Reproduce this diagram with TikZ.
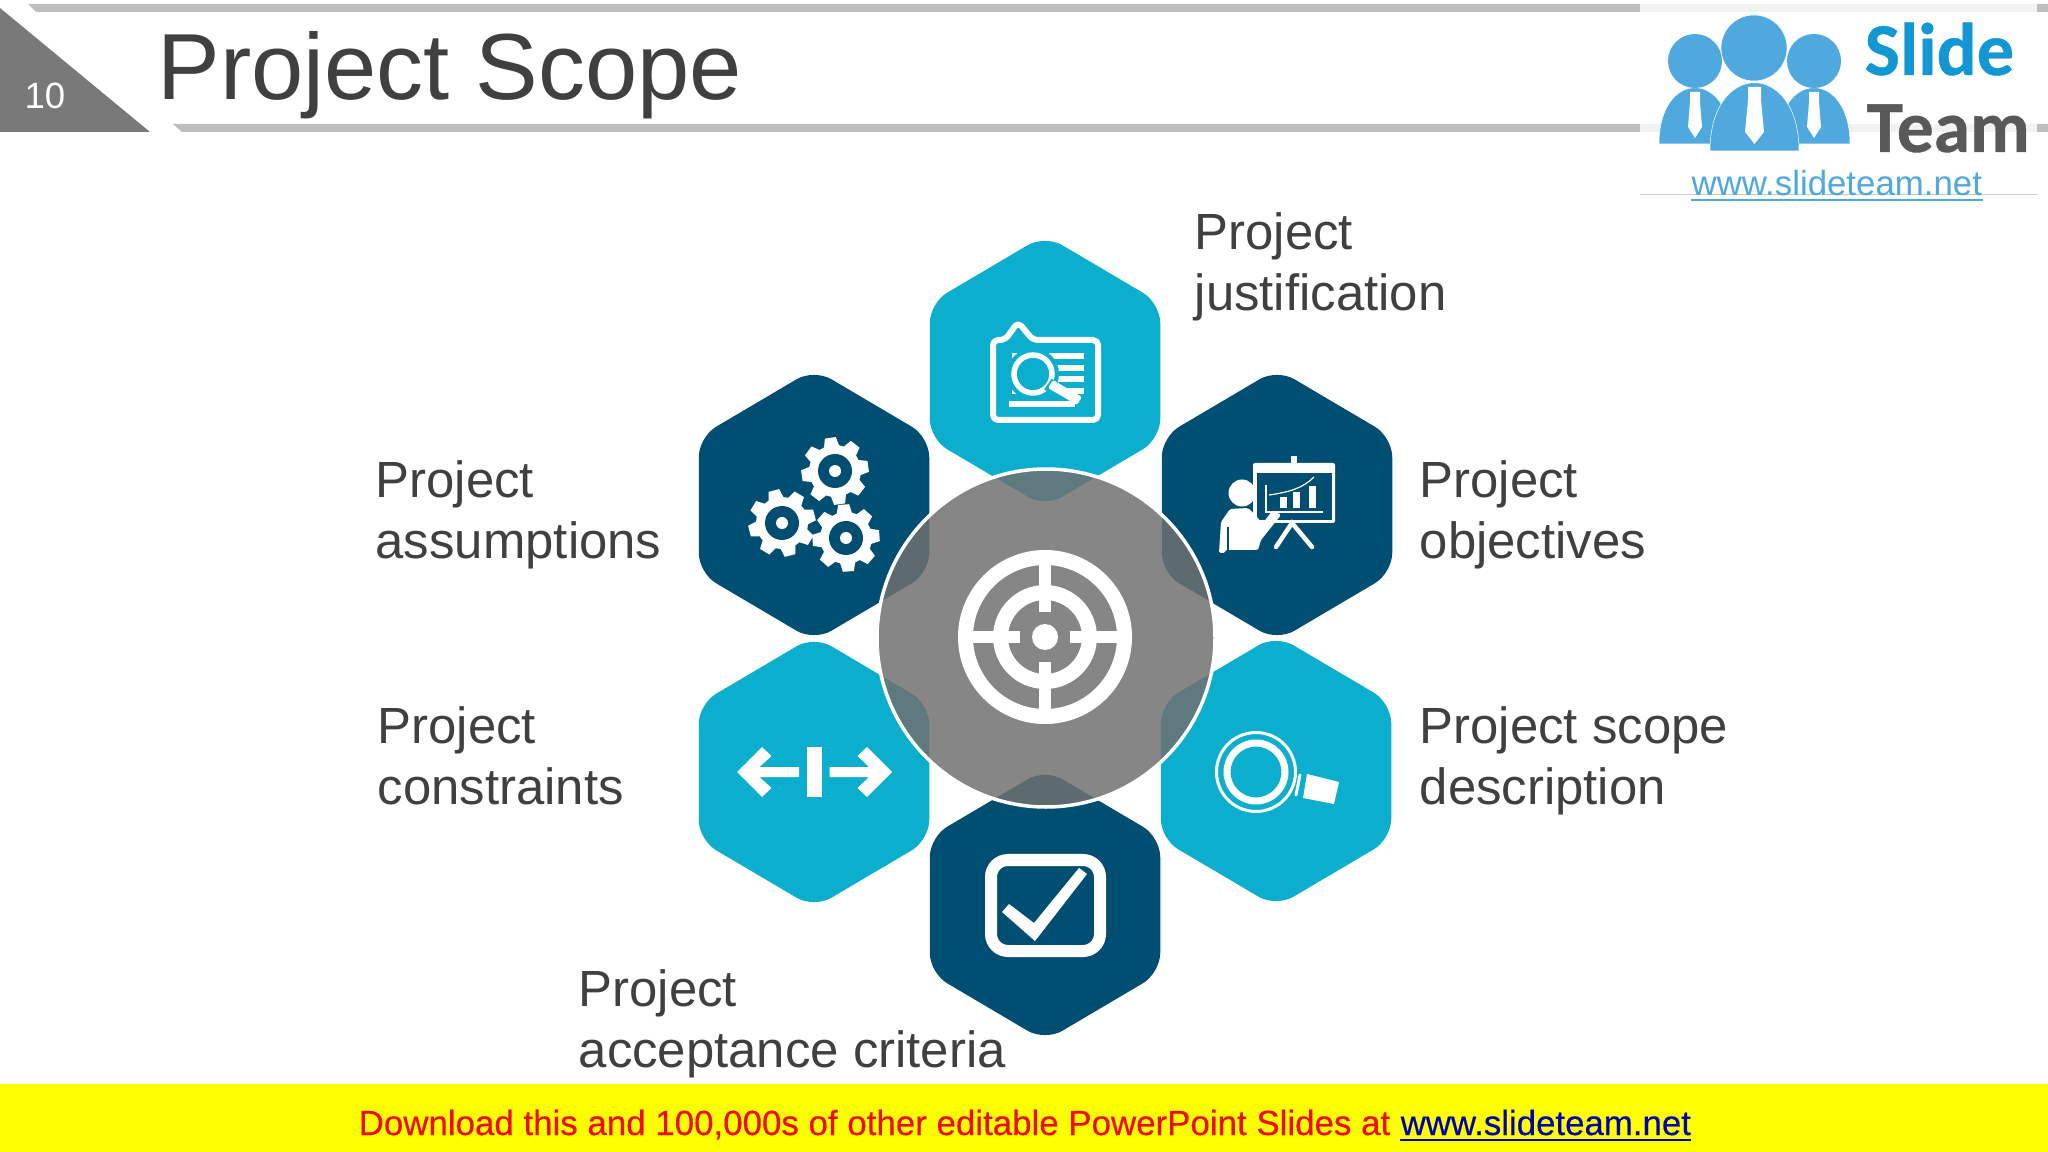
\documentclass[tikz,border=0pt]{standalone}
\usepackage{fontspec}
\setmainfont{Liberation Sans}
\newfontfamily\logofont[FakeBold=0.5]{Carlito}
\newfontfamily\footerfont[FakeBold=0.35]{Liberation Sans}
\usetikzlibrary{shapes.geometric}
\definecolor{hexlight}{HTML}{0BAFCD}
\definecolor{hexdark}{HTML}{004F73}
\definecolor{labelgray}{HTML}{404040}
\definecolor{bargray}{HTML}{BFBFBF}
\definecolor{bandyellow}{HTML}{FFFF00}
\definecolor{logoblue}{HTML}{4FA9DE}
\definecolor{slideblue}{HTML}{1297D4}
\definecolor{footerred}{HTML}{F00A0A}
\begin{document}
\begin{tikzpicture}[
        x=0.01cm, y=-0.01cm,
        hexcell/.style={regular polygon, regular polygon sides=6, shape border rotate=30,
            minimum size=2.66cm, inner sep=0pt, rounded corners=0.2cm, yscale=1.022, transform shape},
        hexa/.style={hexcell, fill=hexlight},
        hexb/.style={hexcell, fill=hexdark},
        label/.style={align=left, anchor=north west, inner sep=0pt, text=labelgray,
            font=\fontsize{14.47}{17.45}\selectfont}
    ]
        \useasboundingbox (0,0) rectangle (2048,1152);
        \fill[white] (0,0) rectangle (2048,1152);

        % Header bars and page number
        \fill[bargray] (28,4) -- (2048,4) -- (2048,12) -- (36,12) -- cycle;
        \fill[bargray] (173,124) -- (2048,124) -- (2048,132) -- (182,132) -- cycle;
        \fill[gray!95!black] (0,8) -- (150,132) -- (0,132) -- cycle;
        \node[text=white, font=\fontsize{10.4}{12}\selectfont] (pageno) at (45,96) {10};
        \node[anchor=base west, inner sep=0pt, text=labelgray, font=\fontsize{26.7}{30}\selectfont] (title) at (157,100) {Project Scope};

        % Logo
        \fill[white, opacity=0.8] (1640,0) rectangle (2037,195);
        \draw[gray!40, line width=0.01cm] (1640,195) -- (2037,195);
        \fill[logoblue, draw=white, line width=0.005cm] (1659,144) .. controls (1659,69) and (1731,69) .. (1731,144) -- cycle;
        \fill[logoblue, draw=white, line width=0.005cm] (1778,144) .. controls (1778,69) and (1850,69) .. (1850,144) -- cycle;
        \fill[logoblue, draw=white, line width=0.005cm] (1710,151) .. controls (1710,60) and (1799,60) .. (1799,151) -- cycle;
        \fill[logoblue] (1695,61) circle (27);
        \fill[logoblue] (1814,61) circle (27);
        \fill[logoblue, draw=white, line width=0.005cm] (1754,48) circle (33);
        \fill[white] (1748,87) -- (1761,87) -- (1761,100) -- (1764,132) -- (1754.5,144) -- (1745,132) -- (1748,100) -- cycle;
        \foreach \tiex in {1695,1814} {
            \fill[white] (\tiex-5,92) -- (\tiex+5,92) -- (\tiex+5,102) -- (\tiex+7,127) -- (\tiex,138) -- (\tiex-7,127) -- (\tiex-5,102) -- cycle;
        }
        \node[anchor=base west, inner sep=0pt, text=slideblue, font=\logofont\bfseries\fontsize{21.2}{24}\selectfont] (logoslide) at (1864,75) {Slide};
        \node[anchor=base west, inner sep=0pt, text=black!65, font=\logofont\bfseries\fontsize{20.9}{24}\selectfont] (logoteam) at (1866,152) {Team};
        \node[anchor=base west, inner sep=0pt, text=logoblue, font=\fontsize{9.9}{12}\selectfont] (logourl) at (1691,196) {www.slideteam.net};
        \draw[logoblue, line width=0.02cm] (1691,200) -- (1983,200);

        % Hexagons
        \node[hexa] (justification) at (1045,371) {};
        \node[hexb] (objectives) at (1277,505) {};
        \node[hexa] (description) at (1276,771) {};
        \node[hexb] (acceptance) at (1045,905) {};
        \node[hexa] (constraints) at (814,772) {};
        \node[hexb] (assumptions) at (814,505) {};

        % Middle circle
        \fill[black!56, fill opacity=0.84] (1046,638) circle (168);
        \draw[white, line width=0.035cm] (1046,638) circle (169);

        % Target
        \draw[white, line width=0.15cm] (1045,637) circle (79.5);
        \draw[white, line width=0.15cm] (1045,637) circle (44.5);
        \fill[white] (1045,637) circle (13);
        \foreach \a in {0,90,180,270} {
            \fill[white, shift={(1045,637)}, rotate=\a] (25,-6) rectangle (75,6);
        }

        % Document with magnifier
        \draw[white, line width=0.06cm, rounded corners=0.05cm, line join=round]
            (993,340) -- (1005,340) -- (1018,322) -- (1033,340) -- (1098,340) -- (1098,420) -- (993,420) -- cycle;
        \foreach \ly in {356,368,379,391} {
            \draw[white, line width=0.055cm] (1012,\ly) -- (1084,\ly);
        }
        \fill[hexlight] (1033,374) circle (26);
        \draw[white, line width=0.055cm] (1033,374) circle (19);
        \draw[hexlight, line width=0.13cm] (1048,384) -- (1082,408);
        \fill[white, rounded corners=0.02cm] (1053,380) -- (1082,397) -- (1077,405) -- (1048,388) -- cycle;
        \draw[white, line width=0.06cm] (1009,404) -- (1075,404);

        % Gears
        \foreach \gx/\gy/\grot in {835/471/8, 782/523/14, 846/538/4} {
            \fill[white] (\gx,\gy) circle (26);
            \foreach \a in {0,45,...,315} {
                \fill[white, shift={(\gx,\gy)}, rotate=\a+\grot] (23,-8) -- (33.5,-5.5) -- (33.5,5.5) -- (23,8) -- cycle;
            }
            \fill[hexdark] (\gx,\gy) circle (17);
            \fill[white] (\gx,\gy) circle (6);
        }

        % Presenter and board
        \fill[white, rounded corners=0.02cm] (1253,463) rectangle (1335,523);
        \fill[hexdark] (1257,473) rectangle (1332,520);
        \fill[white] (1291,456) rectangle (1297,463);
        \draw[white, line width=0.012cm] (1266,485) -- (1266,512) -- (1323,512);
        \foreach \bx/\by in {1283/497,1296/492,1312/486} {
            \fill[white] (\bx-3.5,\by) rectangle (\bx+3.5,508);
        }
        \draw[white, line width=0.012cm] (1269,495) .. controls (1290,492) and (1303,488) .. (1314,477);
        \draw[white, line width=0.045cm, line cap=round] (1276,547) -- (1292,523) -- (1312,547);
        \fill[white] (1242,493) circle (13.5);
        \fill[white, rounded corners=0.015cm] (1219,553) -- (1221,522) -- (1230,509) -- (1248,508) -- (1258,518) -- (1262,524) -- (1273,510) -- (1281,515) -- (1261,540) -- (1258,550) -- (1225,550) -- (1225,553) -- cycle;
        \draw[hexdark, line width=0.015cm] (1228,527) -- (1228,555);

        % Magnifier
        \draw[white, line width=0.03cm] (1256,772) circle (39.5);
        \draw[white, line width=0.07cm] (1256,772) circle (29);
        \draw[white, line width=0.03cm, line cap=round] (1300,775) -- (1296,795);
        \fill[white] (1307,774) -- (1339,782) -- (1334,804) -- (1303,798) -- cycle;

        % Check box
        \draw[white, line width=0.12cm, rounded corners=0.17cm] (991,860) rectangle (1100,951);
        \fill[white] (1009,904) -- (1002,912) -- (1035,941) -- (1087,874) -- (1079,868) -- (1034,923) -- cycle;

        % Arrows with bar
        \fill[white] (807,747) rectangle (821.5,797);
        \fill[white] (737,772) -- (762,747) -- (771.5,756) -- (759.5,767) -- (799,767) -- (799,777) -- (759.5,777) -- (771.5,788) -- (762,797) -- cycle;
        \fill[white] (892,772) -- (867,747) -- (857.5,756) -- (869,767) -- (829.5,767) -- (829.5,777) -- (869,777) -- (857.5,788) -- (867,797) -- cycle;

        % Labels
        \node[label] (labeljustification) at (1194,212) {Project\\justification};
        \node[label] (labelobjectives) at (1419,460) {Project\\objectives};
        \node[label] (labeldescription) at (1419,706) {Project scope\\description};
        \node[label] (labelacceptance) at (578,969) {Project\\acceptance criteria};
        \node[label] (labelconstraints) at (377,706) {Project\\constraints};
        \node[label] (labelassumptions) at (375,460) {Project\\assumptions};

        % Footer
        \fill[bandyellow] (0,1084) rectangle (2048,1152);
        \node[anchor=base west, inner sep=0pt, text=footerred, font=\footerfont\fontsize{9.92}{12}\selectfont] (footertext) at (358,1135) {Download this and 100,000s of other editable PowerPoint Slides at};
        \node[anchor=base west, inner sep=0pt, text=blue!70!black, font=\footerfont\fontsize{9.9}{12}\selectfont] (footerurl) at (1400,1135) {www.slideteam.net};
        \draw[blue!70!black, line width=0.025cm] (footerurl.base west) ++(0,5) -- ++(291,0);
    \end{tikzpicture}
\end{document}
